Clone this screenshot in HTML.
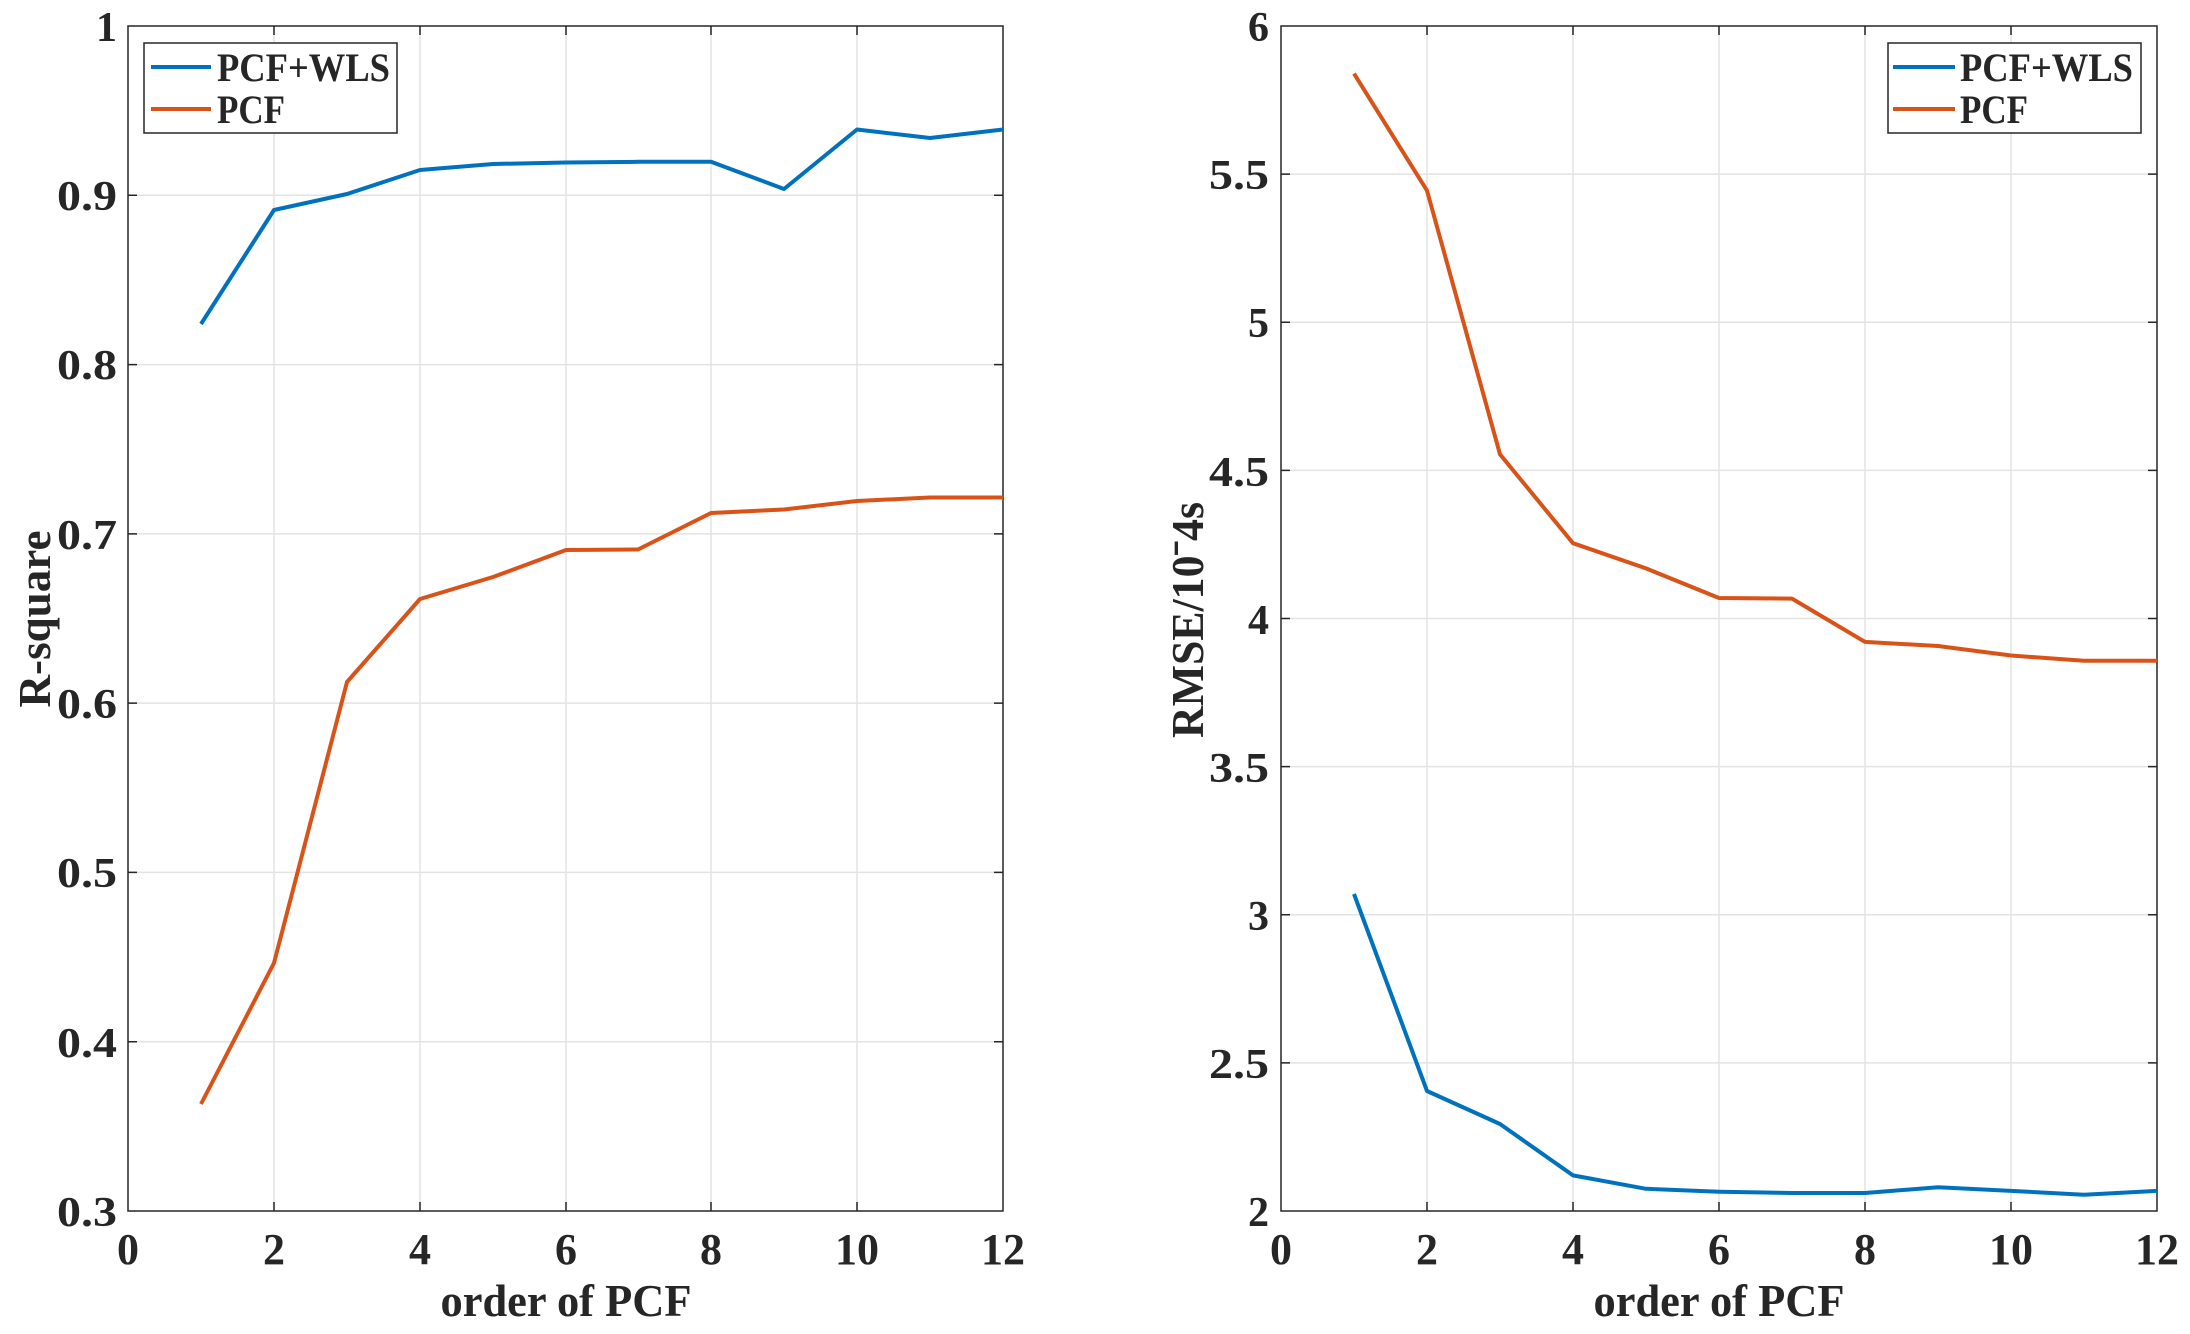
<!DOCTYPE html>
<html><head><meta charset="utf-8"><style>
html,body{margin:0;padding:0;background:#fff}
svg{display:block}
text{font-family:"Liberation Serif","Times New Roman",serif;font-weight:bold;fill:#262626}
</style></head><body>
<svg width="2190" height="1334" viewBox="0 0 2190 1334" xmlns="http://www.w3.org/2000/svg">
<g id="left">
<g stroke="#e3e3e3" stroke-width="1.5">
<line x1="274" y1="26" x2="274" y2="1211"/><line x1="420" y1="26" x2="420" y2="1211"/><line x1="566" y1="26" x2="566" y2="1211"/><line x1="711" y1="26" x2="711" y2="1211"/><line x1="857" y1="26" x2="857" y2="1211"/>
<line x1="128" y1="195.3" x2="1003" y2="195.3"/><line x1="128" y1="364.6" x2="1003" y2="364.6"/><line x1="128" y1="533.9" x2="1003" y2="533.9"/><line x1="128" y1="703.1" x2="1003" y2="703.1"/><line x1="128" y1="872.4" x2="1003" y2="872.4"/><line x1="128" y1="1041.7" x2="1003" y2="1041.7"/>
</g>
<rect x="128" y="26" width="875" height="1185" fill="none" stroke="#262626" stroke-width="1.5"/>
<g stroke="#262626" stroke-width="1.5">
<path d="M274 1211v-9M420 1211v-9M566 1211v-9M711 1211v-9M857 1211v-9M274 26v9M420 26v9M566 26v9M711 26v9M857 26v9"/>
<path d="M128 195.3h9M128 364.6h9M128 533.9h9M128 703.1h9M128 872.4h9M128 1041.7h9M1003 195.3h-9M1003 364.6h-9M1003 533.9h-9M1003 703.1h-9M1003 872.4h-9M1003 1041.7h-9"/>
</g>
<polyline fill="none" stroke="#0072BD" stroke-width="4" stroke-linejoin="round" points="201,324 274,210 347,194 420,170 493,164 566,162.5 638,161.8 711,161.8 784,189 857,129.5 930,138 1003,129.5"/>
<polyline fill="none" stroke="#D95319" stroke-width="4" stroke-linejoin="round" points="201,1104 274,963 347,682 420,599 493,577 566,550 638,549.5 711,513 784,509.5 857,501 930,497.5 1003,497.5"/>
<g font-size="42" text-anchor="end">
<text x="117" y="41">1</text><text x="117" y="210" textLength="60" lengthAdjust="spacingAndGlyphs">0.9</text><text x="117" y="379" textLength="60" lengthAdjust="spacingAndGlyphs">0.8</text><text x="117" y="549" textLength="60" lengthAdjust="spacingAndGlyphs">0.7</text><text x="117" y="718" textLength="60" lengthAdjust="spacingAndGlyphs">0.6</text><text x="117" y="887" textLength="60" lengthAdjust="spacingAndGlyphs">0.5</text><text x="117" y="1057" textLength="60" lengthAdjust="spacingAndGlyphs">0.4</text><text x="117" y="1226" textLength="60" lengthAdjust="spacingAndGlyphs">0.3</text>
</g>
<g font-size="44" text-anchor="middle">
<text x="128" y="1264">0</text><text x="274" y="1264">2</text><text x="420" y="1264">4</text><text x="566" y="1264">6</text><text x="711" y="1264">8</text><text x="857" y="1264">10</text><text x="1003" y="1264">12</text>
</g>
<text x="566" y="1316" font-size="46" text-anchor="middle" textLength="251" lengthAdjust="spacingAndGlyphs">order of PCF</text>
<text transform="translate(50,619) rotate(-90)" font-size="46" text-anchor="middle" textLength="177" lengthAdjust="spacingAndGlyphs">R-square</text>
<rect x="144" y="43" width="253" height="90" fill="#fff" stroke="#262626" stroke-width="1.5"/>
<line x1="151" y1="67" x2="211" y2="67" stroke="#0072BD" stroke-width="4"/>
<line x1="151" y1="109" x2="211" y2="109" stroke="#D95319" stroke-width="4"/>
<text x="217" y="81" font-size="40" fill="#000" textLength="173" lengthAdjust="spacingAndGlyphs">PCF+WLS</text>
<text x="217" y="123" font-size="40" fill="#000" textLength="68" lengthAdjust="spacingAndGlyphs">PCF</text>
</g>
<g id="right">
<g stroke="#e3e3e3" stroke-width="1.5">
<line x1="1427" y1="26" x2="1427" y2="1211"/><line x1="1573" y1="26" x2="1573" y2="1211"/><line x1="1719" y1="26" x2="1719" y2="1211"/><line x1="1865" y1="26" x2="1865" y2="1211"/><line x1="2011" y1="26" x2="2011" y2="1211"/>
<line x1="1281" y1="174.1" x2="2157" y2="174.1"/><line x1="1281" y1="322.3" x2="2157" y2="322.3"/><line x1="1281" y1="470.4" x2="2157" y2="470.4"/><line x1="1281" y1="618.5" x2="2157" y2="618.5"/><line x1="1281" y1="766.6" x2="2157" y2="766.6"/><line x1="1281" y1="914.8" x2="2157" y2="914.8"/><line x1="1281" y1="1062.9" x2="2157" y2="1062.9"/>
</g>
<rect x="1281" y="26" width="876" height="1185" fill="none" stroke="#262626" stroke-width="1.5"/>
<g stroke="#262626" stroke-width="1.5">
<path d="M1427 1211v-9M1573 1211v-9M1719 1211v-9M1865 1211v-9M2011 1211v-9M1427 26v9M1573 26v9M1719 26v9M1865 26v9M2011 26v9"/>
<path d="M1281 174.1h9M1281 322.3h9M1281 470.4h9M1281 618.5h9M1281 766.6h9M1281 914.8h9M1281 1062.9h9M2157 174.1h-9M2157 322.3h-9M2157 470.4h-9M2157 618.5h-9M2157 766.6h-9M2157 914.8h-9M2157 1062.9h-9"/>
</g>
<polyline fill="none" stroke="#D95319" stroke-width="4" stroke-linejoin="round" points="1354,73.6 1427,190.6 1500,454.3 1573,543.2 1646,568.4 1719,598 1792,598.6 1865,641.9 1938,646 2011,655.5 2084,660.8 2157,660.8"/>
<polyline fill="none" stroke="#0072BD" stroke-width="4" stroke-linejoin="round" points="1354,894 1427,1091 1500,1124 1573,1175.4 1646,1188.8 1719,1191.7 1792,1193 1865,1193 1938,1187.3 2011,1190.9 2084,1194.7 2157,1190.9"/>
<g font-size="42" text-anchor="end">
<text x="1269" y="41">6</text><text x="1269" y="189" textLength="60" lengthAdjust="spacingAndGlyphs">5.5</text><text x="1269" y="337">5</text><text x="1269" y="486" textLength="60" lengthAdjust="spacingAndGlyphs">4.5</text><text x="1269" y="634">4</text><text x="1269" y="782" textLength="60" lengthAdjust="spacingAndGlyphs">3.5</text><text x="1269" y="930">3</text><text x="1269" y="1078" textLength="60" lengthAdjust="spacingAndGlyphs">2.5</text><text x="1269" y="1226">2</text>
</g>
<g font-size="44" text-anchor="middle">
<text x="1281" y="1264">0</text><text x="1427" y="1264">2</text><text x="1573" y="1264">4</text><text x="1719" y="1264">6</text><text x="1865" y="1264">8</text><text x="2011" y="1264">10</text><text x="2157" y="1264">12</text>
</g>
<text x="1719" y="1316" font-size="46" text-anchor="middle" textLength="251" lengthAdjust="spacingAndGlyphs">order of PCF</text>
<text transform="translate(1203,620) rotate(-90)" font-size="46" text-anchor="middle" textLength="236" lengthAdjust="spacingAndGlyphs">RMSE/10ˉ4s</text>
<rect x="1888" y="43" width="253" height="90" fill="#fff" stroke="#262626" stroke-width="1.5"/>
<line x1="1893" y1="67" x2="1955" y2="67" stroke="#0072BD" stroke-width="4"/>
<line x1="1893" y1="109" x2="1955" y2="109" stroke="#D95319" stroke-width="4"/>
<text x="1960" y="81" font-size="40" fill="#000" textLength="173" lengthAdjust="spacingAndGlyphs">PCF+WLS</text>
<text x="1960" y="123" font-size="40" fill="#000" textLength="68" lengthAdjust="spacingAndGlyphs">PCF</text>
</g>
</svg>
</body></html>
